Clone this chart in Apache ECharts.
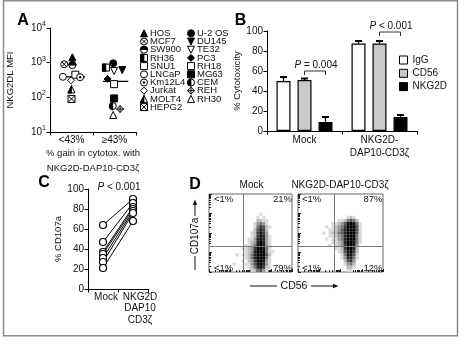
<!DOCTYPE html>
<html><head><meta charset="utf-8">
<script src="https://cdn.jsdelivr.net/npm/echarts@6/dist/echarts.min.js"></script>
<style>html,body{margin:0;padding:0;background:#fff}#c{width:474px;height:351px}</style>
</head><body><div id="c"></div>
<script>
// ---------------- Panel A data ----------------
const cellLines  = ['HOS','MCF7','SW900','RH36','SNU1','LNCaP','Km12L4','Jurkat','MOLT4','HEPG2','U-2 OS','DU145','TE32','PC3','RH18','MG63','CEM','REH','RH30'];
const cellMFI    = [1430, 900, 850, 720, 450, 390, 380, 310, 170, 90, 960, 610, 575, 340, 240, 93, 56, 46, 31];
const cellX      = [0.52,0.33,0.52,1.30,0.59,0.30,0.70,0.49,0.50,0.50,1.47,1.68,1.49,1.34,1.49,1.49,1.46,1.63,1.47];
const cellMarker = ['triUp','circX','circTop','sqLeft','sqOpen','circOpen','circDot','diaOpen','triLeft','sqX','circFill','triDown','triDownOpen','diaFill','sqOpen','sqFill','circLeft','diaCross','triOpen'];
const gainCats   = ['<43%', '≥43%'];
const groupMedian = [390, 290];

// ---------------- Panel B data ----------------
const bCats   = ['Mock', 'NKG2D-\nDAP10-CD3ζ'];
const bNames  = ['IgG', 'CD56', 'NKG2D'];
const iggVal  = [50, 87.5];
const cd56Val = [51, 87.5];
const nkgVal  = [9, 14];
const iggErr  = [4, 2.5];
const cd56Err = [1.5, 2.5];
const nkgErr  = [5, 2];
const pCat    = [0, 1];
const pLevel  = [60, 99];
const pText   = ['= 0.004', '< 0.001'];

// ---------------- Panel C data ----------------
const cCats     = ['Mock', 'NKG2D\nDAP10\nCD3ζ'];
const donorMock = [64, 47, 37, 35, 31, 27, 21];
const donorCAR  = [90, 86, 82, 80, 78, 76, 68];

// ---------------- Panel D data (density grid: [row, firstCol, digits]) ----------------
const flowTitles = ['Mock', 'NKG2D-DAP10-CD3ζ'];
const quadMock = ['<1%', '21%', '<1%', '79%'];
const quadCAR  = ['<1%', '87%', '<1%', '12%'];
const gateCol  = [11.6, 11.85];
const gateRow  = [16.9, 16.9];
const flowMock = [
  [6,17,'1'],[7,16,'101'],[8,16,'2211'],[9,15,'13431'],[10,15,'146521'],[11,15,'25762'],
  [12,14,'126863'],[13,14,'1268731'],[14,13,'11378731'],[15,13,'12379731'],[16,12,'112489831'],
  [17,11,'1123699841'],[18,12,'1237999411'],[19,9,'101124799952'],[20,12,'124799941'],
  [21,11,'1023699831'],[22,8,'1000113589731'],[23,13,'12478621'],[24,14,'124531']
];
const flowCAR = [
  [7,16,'121'],[8,13,'1124542'],[9,11,'1123589841'],[10,9,'101234699951'],[11,10,'11235799951'],
  [12,8,'1012245799951'],[13,10,'11234799941'],[14,9,'101134799941'],[15,11,'1123799841'],
  [16,10,'1012369983'],[17,12,'11269972'],[18,13,'1258962'],[19,14,'148851'],[20,14,'137741'],
  [21,15,'2563'],[22,15,'1342'],[23,16,'221'],[24,16,'11']
];

// ---------------- styling ----------------
const FONT = '"Liberation Sans", Arial, Helvetica, sans-serif';
const TXT = '#111';
const S = 7;
const P_X = 'path://M0,0L20,20M20,0L0,20';
const P_CROSS = 'path://M10,0L10,20M0,10L20,10';
const P_HTOP = 'path://M0,10A10,10,0,0,1,20,10Z';
const P_HLEFT_C = 'path://M10,0A10,10,0,0,0,10,20Z';
const P_HLEFT_T = 'path://M10,0L0,20L10,20Z';
const W = '#fff', K = '#000';
const markerLayers = {
  triUp: [{s:'triangle', f:K}],
  circX: [{s:'circle', f:W}, {s:P_X, sz:S*0.62, f:'transparent'}],
  circTop: [{s:'circle', f:W}, {s:P_HTOP, sz:[S,S/2], off:[0,-S/4], f:K}],
  sqLeft: [{s:'rect', f:W}, {s:'rect', sz:[S/2,S], off:[-S/4,0], f:K}],
  sqOpen: [{s:'rect', f:W}],
  circOpen: [{s:'circle', f:W}],
  circDot: [{s:'circle', f:W}, {s:'circle', sz:2.4, f:K, bw:0}],
  diaOpen: [{s:'diamond', f:W}],
  triLeft: [{s:'triangle', f:W}, {s:P_HLEFT_T, sz:[S/2,S], off:[-S/4,0], f:K}],
  sqX: [{s:'rect', f:W}, {s:P_X, f:'transparent'}],
  circFill: [{s:'circle', f:K}],
  triDown: [{s:'triangle', rot:180, f:K}],
  triDownOpen: [{s:'triangle', rot:180, f:W}],
  diaFill: [{s:'diamond', f:K}],
  sqFill: [{s:'rect', f:K}],
  circLeft: [{s:'circle', f:W}, {s:P_HLEFT_C, sz:[S/2,S], off:[-S/4,0], f:K}],
  diaCross: [{s:'diamond', f:W}, {s:P_CROSS, f:'transparent'}],
  triOpen: [{s:'triangle', f:W}]
};
const axisLineK = {show:true, lineStyle:{color:'#000', width:1}};
const tickOut = {show:true, length:3.5, lineStyle:{color:'#000', width:1}};
const lbl = (extra) => Object.assign({color:TXT, fontSize:10, fontFamily:FONT}, extra||{});
const BAR_W = 14, BAR_STEP = 21;
const shades = ['#fff','#dadada','#bcbcbc','#999','#777','#555','#383838','#222','#111','#000'];

const series = [];

// Panel A points + legend (built from the same marker layers)
cellLines.forEach((name, i) => {
  markerLayers[cellMarker[i]].forEach((L, k) => {
    const base = {
      type:'scatter', silent:true, animation:false,
      symbol:L.s, symbolSize:L.sz || S, symbolOffset:L.off || [0,0], symbolRotate:L.rot || 0,
      itemStyle:{color:L.f, borderColor:'#000', borderWidth:(L.bw === undefined ? 1 : L.bw), opacity:1},
      z: 3 + k
    };
    series.push(Object.assign({}, base, {xAxisIndex:1, yAxisIndex:0, data:[[cellX[i], cellMFI[i]]]}));
    series.push(Object.assign({}, base, {
      xAxisIndex:2, yAxisIndex:1, data:[[i < 10 ? 0 : 1, i < 10 ? i : i - 10]],
      label: k === 0 ? {show:true, position:'right', distance:2, formatter:name, fontSize:9.5, fontFamily:FONT, color:TXT} : {show:false}
    }));
  });
});
groupMedian.forEach((m, g) => {
  series.push({type:'line', xAxisIndex:1, yAxisIndex:0, silent:true, animation:false, symbol:'none', z:2,
    lineStyle:{color:'#000', width:1.2}, data:[[g + 0.23, m], [g + 0.82, m]]});
});

// Panel B bars
[iggVal, cd56Val, nkgVal].forEach((vals, s) => {
  series.push({type:'bar', name:bNames[s], xAxisIndex:3, yAxisIndex:2, data:vals, barWidth:BAR_W, barGap:'50%',
    animation:false, silent:true,
    itemStyle:{color:['#ffffff','#c9c9c9','#000000'][s], borderColor:'#000', borderWidth:1.2}});
});
[iggErr, cd56Err, nkgErr].forEach((errs, s) => {
  const vals = [iggVal, cd56Val, nkgVal][s];
  series.push({type:'custom', xAxisIndex:3, yAxisIndex:2, silent:true, animation:false, clip:false, z:5,
    encode:{x:0, y:1},
    data: vals.map((v, i) => [i, v, errs[i]]),
    renderItem: (params, api) => {
      const c = api.value(0), m = api.value(1), e = api.value(2);
      const p0 = api.coord([c, m]), p1 = api.coord([c, m + e]);
      const x = p0[0] + (s - 1) * BAR_STEP;
      return {type:'group', children:[
        {type:'line', shape:{x1:x, y1:p0[1], x2:x, y2:p1[1]}, style:{stroke:'#000', lineWidth:1.3}},
        {type:'line', shape:{x1:x - 3.5, y1:p1[1], x2:x + 3.5, y2:p1[1]}, style:{stroke:'#000', lineWidth:2}}
      ]};
    }});
});
series.push({type:'custom', xAxisIndex:3, yAxisIndex:2, silent:true, animation:false, clip:false, z:6,
  encode:{x:0, y:1},
  data: pCat.map((c, i) => [c, pLevel[i]]),
  renderItem: (params, api) => {
    const c = api.value(0), y = api.value(1);
    const top = api.coord([c, y]), leg = api.coord([c, y - 4]), tp = api.coord([c, y + 5.5]);
    const x1 = top[0], x2 = top[0] + BAR_STEP;
    return {type:'group', children:[
      {type:'polyline', shape:{points:[[x1, leg[1]], [x1, top[1]], [x2, top[1]], [x2, leg[1]]]}, style:{stroke:'#333', lineWidth:1, fill:null}},
      {type:'text', style:{x:(x1 + x2) / 2 + 1, y:tp[1], text:'{i|P} ' + pText[params.dataIndex], align:'center', verticalAlign:'middle',
        fill:TXT, fontSize:10, fontFamily:FONT, rich:{i:{fontStyle:'italic', fontSize:10, fontFamily:FONT, fill:TXT}}}}
    ]};
  }});

// Panel C paired lines
donorMock.forEach((m, i) => {
  series.push({type:'line', xAxisIndex:4, yAxisIndex:3, silent:true, animation:false, z:5,
    data:[m, donorCAR[i]], symbol:'circle', symbolSize:7, showSymbol:true,
    itemStyle:{color:'#fff', borderColor:'#000', borderWidth:1.2}, lineStyle:{color:'#000', width:1}});
});

// Panel D density dot plots
function flowSeries(grid, xIdx, yIdx, gi) {
  const pts = [];
  grid.forEach(([r, c0, str]) => {
    for (let j = 0; j < str.length; j++) {
      const d = +str[j];
      if (d > 0) pts.push([c0 + j + 0.5, r + 0.5, d]);
    }
  });
  return {type:'scatter', xAxisIndex:xIdx, yAxisIndex:yIdx, silent:true, animation:false, z:2,
    symbol:'rect', symbolSize:[3.1, 3.2], data:pts,
    itemStyle:{color:(p) => shades[p.value[2]], borderWidth:0, opacity:1},
    markLine:{silent:true, symbol:'none', animation:false, label:{show:false},
      lineStyle:{color:'#7a7a7a', width:1, type:'solid'},
      data:[{xAxis:gateCol[gi]}, {yAxis:gateRow[gi]}]}};
}
series.push(flowSeries(flowMock, 5, 4, 0));
series.push(flowSeries(flowCAR, 7, 6, 1));

const flowLogX = (g) => ({gridIndex:g, type:'log', logBase:10, min:1, max:10000, position:'bottom',
  axisLine:{show:false}, axisLabel:{show:false}, splitLine:{show:false},
  axisTick:{show:true, inside:true, length:3, lineStyle:{color:'#222', width:1}},
  minorTick:{show:true, splitNumber:9, length:2, lineStyle:{color:'#222', width:1}}});
const flowLogY = (g) => ({gridIndex:g, type:'log', logBase:10, min:1, max:10000, position:'left',
  axisLine:{show:false}, axisLabel:{show:false}, splitLine:{show:false},
  axisTick:{show:true, inside:true, length:3, lineStyle:{color:'#222', width:1}},
  minorTick:{show:true, splitNumber:9, length:2, lineStyle:{color:'#222', width:1}}});

const T = (x, y, text, extra) => ({type:'text', silent:true, z:100, style:Object.assign({x:x, y:y, text:text, align:'center', verticalAlign:'middle', fill:TXT, fontSize:10, fontFamily:FONT}, extra||{})});
const LETTER = {fontSize:16, fontWeight:'bold', fill:'#000'};

const option = {
  animation:false,
  backgroundColor:'#fff',
  textStyle:{fontFamily:FONT},
  grid:[
    {left:50, top:28, width:86, height:104, outerBoundsMode:'none'},
    {left:144, top:33.3, width:47, height:73.8, outerBoundsMode:'none'},
    {left:267, top:31, width:150, height:100, outerBoundsMode:'none'},
    {left:88, top:189, width:60, height:100, outerBoundsMode:'none'},
    {left:209, top:194, width:83, height:78, show:true, borderColor:'#666', borderWidth:1, backgroundColor:'transparent', outerBoundsMode:'none'},
    {left:298, top:194, width:85, height:78, show:true, borderColor:'#666', borderWidth:1, backgroundColor:'transparent', outerBoundsMode:'none'}
  ],
  xAxis:[
    {gridIndex:0, type:'category', data:gainCats, axisLine:axisLineK, axisTick:tickOut,
      axisLabel:lbl({margin:3, interval:0}), splitLine:{show:false},
      name:'% gain in cytotox. with\nNKG2D-DAP10-CD3ζ', nameLocation:'middle', nameGap:4,
      nameTextStyle:{color:TXT, fontSize:9.5, lineHeight:15, fontFamily:FONT}},
    {gridIndex:0, type:'value', min:0, max:2, show:false},
    {gridIndex:1, type:'value', min:0, max:1, show:false},
    {gridIndex:2, type:'category', data:bCats, axisLine:axisLineK, axisTick:tickOut,
      axisLabel:lbl({margin:3, lineHeight:13, interval:0}), splitLine:{show:false}},
    {gridIndex:3, type:'category', data:cCats, axisLine:axisLineK, axisTick:tickOut, splitLine:{show:false},
      axisLabel:lbl({margin:2, interval:0, formatter:(v, i) => i === 0 ? '{m|Mock}' : '{n|NKG2D}\n{n|DAP10}\n{n|CD3ζ}',
        rich:{m:{fontSize:10, fontFamily:FONT, color:TXT, padding:[0,0,0,6], lineHeight:11.5},
              n:{fontSize:10, fontFamily:FONT, color:TXT, padding:[0,0,0,14], lineHeight:11.5}}})},
    {gridIndex:4, type:'value', min:0, max:28, show:false},
    flowLogX(4),
    {gridIndex:5, type:'value', min:0, max:28, show:false},
    flowLogX(5)
  ],
  yAxis:[
    {gridIndex:0, type:'log', logBase:10, min:10, max:10000, axisLine:axisLineK, axisTick:tickOut,
      splitLine:{show:false}, minorTick:{show:false},
      axisLabel:{margin:4, formatter:(v) => '{b|10}{s|' + Math.round(Math.log10(v)) + '}',
        rich:{b:{fontSize:10, fontFamily:FONT, color:TXT}, s:{fontSize:7, fontFamily:FONT, color:TXT, padding:[0,0,8,0]}}},
      name:'NKG2DL MFI', nameLocation:'middle', nameGap:35,
      nameTextStyle:{color:TXT, fontSize:9.5, fontFamily:FONT}},
    {gridIndex:1, type:'value', min:0, max:9, inverse:true, show:false},
    {gridIndex:2, type:'value', min:0, max:100, interval:20, axisLine:axisLineK, axisTick:tickOut,
      splitLine:{show:false}, axisLabel:lbl({margin:4}),
      name:'% Cytotoxicity', nameLocation:'middle', nameGap:21,
      nameTextStyle:{color:TXT, fontSize:9.5, fontFamily:FONT}},
    {gridIndex:3, type:'value', min:0, max:100, interval:20, axisLine:axisLineK, axisTick:tickOut,
      splitLine:{show:false}, axisLabel:lbl({margin:4}),
      name:'% CD107a', nameLocation:'middle', nameGap:25,
      nameTextStyle:{color:TXT, fontSize:9.5, fontFamily:FONT}},
    {gridIndex:4, type:'value', min:0, max:25, inverse:true, show:false},
    flowLogY(4),
    {gridIndex:5, type:'value', min:0, max:25, inverse:true, show:false},
    flowLogY(5)
  ],
  legend:{data:bNames, orient:'vertical', left:399, top:55, itemWidth:8, itemHeight:8, itemGap:3.3,
    icon:'rect', selectedMode:false, padding:0,
    itemStyle:{borderColor:'#000', borderWidth:1},
    textStyle:{color:TXT, fontSize:10, fontFamily:FONT}},
  series: series,
  graphic:{z:100, elements:[
    {type:'rect', silent:true, z:-10, shape:{x:3.5, y:0.8, width:454, height:335}, style:{fill:'none', stroke:'#8c8c8c', lineWidth:1.5}},
    T(23, 21, 'A', LETTER),
    T(240.5, 20.5, 'B', LETTER),
    T(44, 183, 'C', LETTER),
    T(195, 184.5, 'D', LETTER),
    T(119, 187, '{i|P} < 0.001', {rich:{i:{fontStyle:'italic', fontSize:10, fontFamily:FONT, fill:TXT}}}),
    T(251.5, 185, flowTitles[0]),
    T(340, 185, flowTitles[1]),
    T(214, 199.5, quadMock[0], {align:'left', fontSize:9.5}),
    T(292, 199.5, quadMock[1], {align:'right', fontSize:9.5}),
    T(214, 268, quadMock[2], {align:'left', fontSize:9.5}),
    T(292, 268, quadMock[3], {align:'right', fontSize:9.5}),
    T(302, 199.5, quadCAR[0], {align:'left', fontSize:9.5}),
    T(382.5, 199.5, quadCAR[1], {align:'right', fontSize:9.5}),
    T(302, 268, quadCAR[2], {align:'left', fontSize:9.5}),
    T(382.5, 268, quadCAR[3], {align:'right', fontSize:9.5}),
    {type:'line', silent:true, shape:{x1:195, y1:270, x2:195, y2:256}, style:{stroke:'#111', lineWidth:1}},
    {type:'line', silent:true, shape:{x1:195, y1:216, x2:195, y2:204}, style:{stroke:'#111', lineWidth:1}},
    {type:'polygon', silent:true, shape:{points:[[192.8,205],[197.2,205],[195,199.5]]}, style:{fill:'#111'}},
    {type:'text', silent:true, z:100, rotation:Math.PI / 2, x:195, y:236, style:{x:0, y:0, text:'CD107a', align:'center', verticalAlign:'middle', fill:TXT, fontSize:10, fontFamily:FONT}},
    {type:'line', silent:true, shape:{x1:250, y1:286, x2:277, y2:286}, style:{stroke:'#111', lineWidth:1}},
    {type:'line', silent:true, shape:{x1:311, y1:286, x2:334, y2:286}, style:{stroke:'#111', lineWidth:1}},
    {type:'polygon', silent:true, shape:{points:[[333,283.8],[333,288.2],[338.5,286]]}, style:{fill:'#111'}},
    T(294, 286, 'CD56', {fontSize:10.5})
  ]}
};

const chart = echarts.init(document.getElementById('c'), null, {renderer:'canvas', width:474, height:351});
chart.setOption(option);
</script>
</body></html>
